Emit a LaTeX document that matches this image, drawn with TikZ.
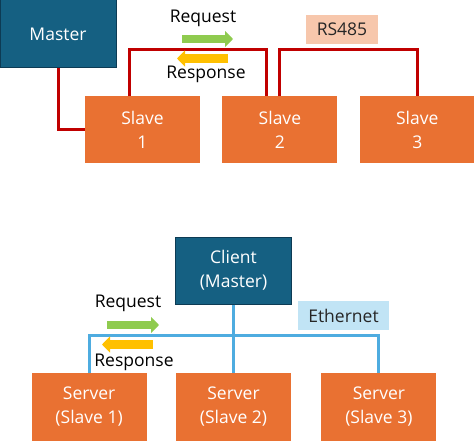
\documentclass[tikz,border=0pt]{standalone}
\usepackage{fontspec}
\setmainfont{Open Sans}
\usetikzlibrary{positioning}
\usetikzlibrary{arrows.meta}
\definecolor{masterblue}{HTML}{156082}
\definecolor{masterborder}{HTML}{0D3B54}
\definecolor{slaveorange}{HTML}{E97132}
\definecolor{rsred}{HTML}{C00000}
\definecolor{ethblue}{HTML}{4EACE0}
\definecolor{rsfill}{HTML}{F7C7AC}
\definecolor{ethfill}{HTML}{C1E4F5}
\definecolor{reqgreen}{HTML}{8FCB4F}
\definecolor{resyellow}{HTML}{FFC000}

\begin{document}
\begin{tikzpicture}
[
x=1pt, y=-1pt,
node distance=22pt and 22pt,
font=\fontsize{17.5}{24}\selectfont,
masterbox/.style={draw=masterborder, line width=1pt, fill=masterblue, text=white, minimum width=116pt, minimum height=68pt, align=center},
slavebox/.style={fill=slaveorange, text=white, minimum width=115pt, minimum height=67pt, align=center},
tag/.style={minimum height=29pt, anchor=center, text=black!85},
rsline/.style={draw=rsred, line width=3pt},
ethline/.style={draw=ethblue, line width=3pt},
reqarrow/.style={draw=reqgreen, line width=8.5pt, -{Triangle[length=8pt,width=16pt]}},
resarrow/.style={draw=resyellow, line width=8.5pt, -{Triangle[length=8pt,width=16pt]}},
]
\useasboundingbox (0,0) rectangle (474,441);

% RS485 bus
\node (master) [masterbox] at (58,34) {Master};
\node (slave1) [slavebox] at (142.5,130) {Slave\\1};
\node (slave2) [slavebox, right=of slave1] {Slave\\2};
\node (slave3) [slavebox, right=of slave2] {Slave\\3};
\node (rs) [tag, minimum width=72pt, fill=rsfill] at (342,29.5) {RS485};
\node (req1) at (203,18) {Request};
\node (res1) at (206,74) {Response};

\coordinate (rsbus) at (0,50);
\coordinate (s1tap) at ([xshift=-13.5pt]slave1.north);
\coordinate (s2tap) at ([xshift=-13pt]slave2.north);
\draw [rsline] (master.south) |- (slave1.west);
\draw [rsline] (s1tap) |- (rsbus -| s2tap) -- (s2tap);
\draw [rsline] (slave2.north) |- (rsbus -| slave3.north) -- (slave3.north);

\coordinate (req1a) at (182,39);
\coordinate (req1b) at (233,39);
\coordinate (res1a) at (228,58.5);
\coordinate (res1b) at (177,58.5);
\draw [reqarrow] (req1a) -- (req1b);
\draw [resarrow] (res1a) -- (res1b);

% Ethernet
\node (client) [masterbox, minimum height=67pt] at (233.5,270.5) {Client\\(Master)};
\node (server2) [slavebox, minimum height=68pt] at (233.5,407) {Server\\(Slave 2)};
\node (server1) [slavebox, minimum height=68pt, left=29pt of server2] {Server\\(Slave 1)};
\node (server3) [slavebox, minimum height=68pt, right=30pt of server2] {Server\\(Slave 3)};
\node (eth) [tag, minimum width=91pt, fill=ethfill] at (343.5,315.5) {Ethernet};
\node (req2) at (128,303) {Request};
\node (res2) at (134,362) {Response};

\coordinate (ethbus) at (0,335);
\draw [ethline] (client.south) -- (server2.north);
\draw [ethline] (server1.north) |- (ethbus -| server3.north) -- (server3.north);

\coordinate (req2a) at (107,325);
\coordinate (req2b) at (159,325);
\coordinate (res2a) at (153,344.5);
\coordinate (res2b) at (102,344.5);
\draw [reqarrow] (req2a) -- (req2b);
\draw [resarrow] (res2a) -- (res2b);
\end{tikzpicture}
\end{document}
